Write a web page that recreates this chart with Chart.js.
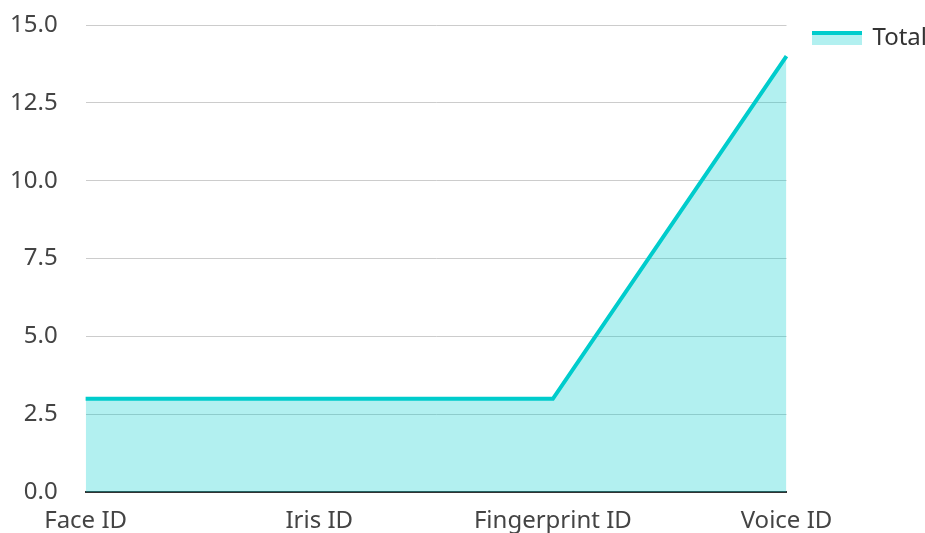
<!DOCTYPE html>
<html>
<head>
<meta charset="utf-8">
<script src="https://cdn.jsdelivr.net/npm/chart.js@4"></script>
<style>
  html, body { margin: 0; padding: 0; overflow: hidden; background: #fff; }
  #wrap { position: relative; width: 925px; height: 551px; }
</style>
</head>
<body>
<div id="wrap"><canvas id="chart"></canvas></div>
<script>
// data
const categories = ['Face ID', 'Iris ID', 'Fingerprint ID', 'Voice ID'];
const totalValues = [3, 3, 3, 14];
const yTicks = [0, 2.5, 5, 7.5, 10, 12.5, 15];

const lineColor = 'rgb(0, 204, 204)';
const fillColor = 'rgba(0, 204, 204, 0.3)';

// legend swatch: teal line on top, light fill below
const swatch = document.createElement('canvas');
swatch.width = 50;
swatch.height = 14;
const sctx = swatch.getContext('2d');
sctx.fillStyle = fillColor;
sctx.fillRect(0, 0, 50, 14);
sctx.fillStyle = lineColor;
sctx.fillRect(0, 0, 50, 4);

Chart.defaults.font.family = '"Noto Sans", "Open Sans", sans-serif';
Chart.defaults.font.size = 24;
Chart.defaults.color = '#444';

const ctx = document.getElementById('chart').getContext('2d');
new Chart(ctx, {
    type: 'line',
    data: {
        labels: categories,
        datasets: [{
            label: 'Total',
            data: totalValues,
            borderColor: lineColor,
            backgroundColor: fillColor,
            borderWidth: 4,
            fill: 'origin',
            pointRadius: 0,
            tension: 0,
            pointStyle: swatch
        }]
    },
    options: {
        responsive: true,
        maintainAspectRatio: false,
        animation: false,
        layout: { padding: { top: -2, right: -12, bottom: 0, left: -18 } },
        plugins: {
            tooltip: { enabled: false },
            legend: {
                position: 'right',
                align: 'start',
                labels: {
                    usePointStyle: true,
                    pointStyleWidth: 46,
                    padding: 28,
                    color: '#333'
                }
            }
        },
        scales: {
            x: {
                offset: false,
                grid: { display: false, drawTicks: false },
                border: { display: true, color: '#333', width: 2 },
                ticks: { padding: 15, maxRotation: 0, autoSkip: false },
                afterFit: (axis) => { axis.paddingLeft = 0; axis.paddingRight = 0; }
            },
            y: {
                min: 0,
                max: 15,
                afterBuildTicks: (axis) => { axis.ticks = yTicks.map(v => ({ value: v })); },
                afterFit: (axis) => { axis.paddingTop = 25; axis.paddingBottom = 0; },
                grid: { color: '#ccc', lineWidth: 1, drawTicks: false },
                border: { display: false },
                ticks: {
                    padding: 28,
                    callback: (v) => Number(v).toFixed(1)
                }
            }
        }
    }
});
</script>
</body>
</html>
